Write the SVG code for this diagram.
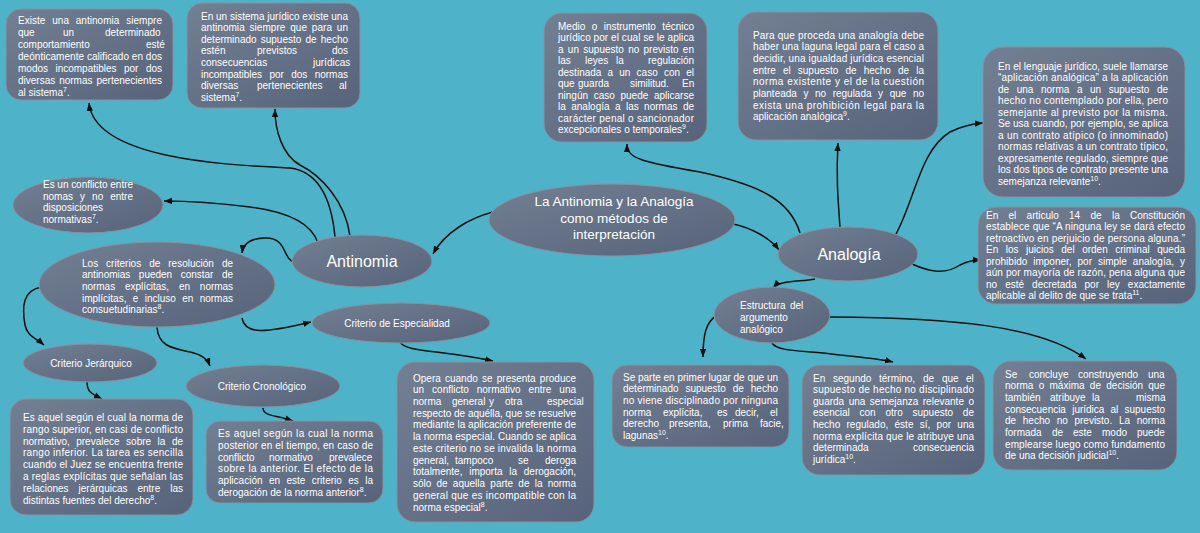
<svg xmlns="http://www.w3.org/2000/svg" width="1200" height="533" viewBox="0 0 1200 533">
<defs>
<linearGradient id="g" x1="0" y1="0" x2="1" y2="1">
<stop offset="0" stop-color="#737f92"/>
<stop offset="1" stop-color="#56637a"/>
</linearGradient>
<marker id="ah" viewBox="0 0 10 10" refX="10" refY="5" markerWidth="8" markerHeight="8" markerUnits="userSpaceOnUse" orient="auto">
<path d="M0,1 L10,5 L0,9 z" fill="#111"/>
</marker>
<style>
.n{fill:url(#g);stroke:#8592a3;stroke-width:1}
.t{font-family:"Liberation Sans",Arial,sans-serif;font-size:10px;fill:#fff}
.c{text-anchor:middle}
.big{font-size:16px}
.mid{font-size:13.5px}
.sup{font-size:7px}
.k{fill:none;stroke:#111;stroke-width:1.5;marker-end:url(#ah)}
</style>
</defs>
<rect width="1200" height="533" fill="#4eb3c8"/>

<g id="connectors">
<path class="k" d="M335,237 C332,205 322,172 290,168 C230,165 95,160 89,103"/>
<path class="k" d="M350,236 C345,200 320,175 300,165 C282,155 275,130 275,109"/>
<path class="k" d="M318,243 C312,225 290,212 250,207 C210,202 185,201 164,201"/>
<path class="k" d="M295,262 C282,260 288,238 266,238 C250,238 243,244 242,253"/>
<path class="k" d="M42,287 C22,290 22,308 25,325 C27,336 36,338 44,345"/>
<path class="k" d="M157,327 C158,345 170,348 190,352 C200,354 207,358 210,366"/>
<path class="k" d="M242,318 C245,335 265,333 311,322"/>
<path class="k" d="M87,382 C87,392 92,394 102,399"/>
<path class="k" d="M263,408 C263,416 275,415 293,421"/>
<path class="k" d="M400,342 C405,352 440,350 493,361"/>
<path class="k" d="M493,212 C470,218 445,232 433,254"/>
<path class="k" d="M733,224 C752,228 770,238 779,250"/>
<path class="k" d="M800,233 C790,200 760,185 700,172 C640,162 627,158 627,144"/>
<path class="k" d="M840,227 C838,200 836,175 838,143"/>
<path class="k" d="M895,236 C915,200 920,150 950,132 C960,127 970,124 983,123"/>
<path class="k" d="M912,264 C930,272 945,275 960,265 C966,262 972,260 981,260"/>
<path class="k" d="M815,279 C800,282 780,280 773,288"/>
<path class="k" d="M716,316 C706,322 703,335 703,357"/>
<path class="k" d="M772,343 C778,352 800,350 840,355 C870,358 885,360 893,362"/>
<path class="k" d="M830,317 C950,318 1040,325 1086,359"/>
</g>

<g id="center">
<ellipse class="n" cx="612" cy="220" rx="123" ry="36"/>
<text class="t c mid" x="614" y="206">La Antinomia y la Analogía</text>
<text class="t c mid" x="614" y="222.5">como métodos de</text>
<text class="t c mid" x="614" y="239">interpretación</text>
</g>

<g id="antinomia">
<ellipse class="n" cx="362" cy="261" rx="70" ry="26"/>
<text class="t c big" x="362" y="267">Antinomia</text>
</g>

<g id="analogia">
<ellipse class="n" cx="848" cy="254" rx="70" ry="27"/>
<text class="t c big" x="849" y="260">Analogía</text>
</g>

<g id="boxA">
<rect class="n" x="6" y="9" width="167" height="91" rx="15"/>
<text class="t" x="18" y="23.5" word-spacing="3.9" textLength="144" lengthAdjust="spacing">Existe una antinomia siempre</text>
<text class="t" y="35.5"><tspan x="18">que</tspan><tspan x="63">un</tspan><tspan x="105">determinado</tspan></text>
<text class="t" y="47.5"><tspan x="18">comportamiento</tspan><tspan x="146">esté</tspan></text>
<text class="t" x="18" y="59.5" textLength="144" lengthAdjust="spacing">deónticamente calificado en dos</text>
<text class="t" x="18" y="71.5" word-spacing="4.7" textLength="144" lengthAdjust="spacing">modos incompatibles por dos</text>
<text class="t" x="18" y="83.5" word-spacing="1.2" textLength="144" lengthAdjust="spacing">diversas normas pertenecientes</text>
<text class="t" x="18" y="95.5">al sistema<tspan class="sup" dy="-4">7</tspan><tspan dy="4">.</tspan></text>
</g>

<g id="boxB">
<rect class="n" x="187" y="3" width="173" height="105" rx="15"/>
<text class="t" x="201" y="19.5" textLength="147" lengthAdjust="spacing">En un sistema jurídico existe una</text>
<text class="t" x="201" y="31.1" word-spacing="2" textLength="147" lengthAdjust="spacing">antinomia siempre que para un</text>
<text class="t" x="201" y="42.7" word-spacing="1.4" textLength="147" lengthAdjust="spacing">determinado supuesto de hecho</text>
<text class="t" y="54.3"><tspan x="201">estén</tspan><tspan x="257">previstos</tspan><tspan x="332">dos</tspan></text>
<text class="t" y="65.9"><tspan x="201">consecuencias</tspan><tspan x="313">jurídicas</tspan></text>
<text class="t" x="201" y="77.5" word-spacing="4.6" textLength="147" lengthAdjust="spacing">incompatibles por dos normas</text>
<text class="t" y="89.1"><tspan x="201">diversas</tspan><tspan x="257">pertenecientes</tspan><tspan x="339">al</tspan></text>
<text class="t" x="201" y="100.7">sistema<tspan class="sup" dy="-4">7</tspan><tspan dy="4">.</tspan></text>
</g>

<g id="conflicto">
<ellipse class="n" cx="88" cy="205" rx="75" ry="28"/>
<text class="t" x="43" y="188" textLength="90" lengthAdjust="spacing">Es un conflicto entre</text>
<text class="t" x="43" y="199.7" word-spacing="4.3" textLength="90" lengthAdjust="spacing">nomas y no entre</text>
<text class="t" x="43" y="211.4">disposiciones</text>
<text class="t" x="43" y="223">normativas<tspan class="sup" dy="-4">7</tspan><tspan dy="4">.</tspan></text>
</g>

<g id="criterios">
<ellipse class="n" cx="157" cy="284.5" rx="118" ry="42.5"/>
<text class="t" x="82" y="266.5" word-spacing="5.2" textLength="151" lengthAdjust="spacing">Los criterios de resolución de</text>
<text class="t" x="82" y="278.2" word-spacing="5.7" textLength="151" lengthAdjust="spacing">antinomias pueden constar de</text>
<text class="t" x="82" y="289.9" word-spacing="7.2" textLength="151" lengthAdjust="spacing">normas explícitas, en normas</text>
<text class="t" x="82" y="301.6" word-spacing="3.6" textLength="151" lengthAdjust="spacing">implícitas, e incluso en normas</text>
<text class="t" x="82" y="313.3">consuetudinarias<tspan class="sup" dy="-4">8</tspan><tspan dy="4">.</tspan></text>
</g>

<g id="jerarquico">
<ellipse class="n" cx="90" cy="363" rx="67" ry="19"/>
<text class="t c" x="91" y="367">Criterio Jerárquico</text>
</g>

<g id="jerarquicoBox">
<rect class="n" x="10" y="399" width="183" height="116" rx="16"/>
<text class="t" x="23" y="421" textLength="160" lengthAdjust="spacing">Es aquel según el cual la norma de</text>
<text class="t" x="23" y="432.8" textLength="160" lengthAdjust="spacing">rango superior, en casi de conflicto</text>
<text class="t" x="23" y="444.6" word-spacing="3.7" textLength="160" lengthAdjust="spacing">normativo, prevalece sobre la de</text>
<text class="t" x="23" y="456.4" textLength="160" lengthAdjust="spacing">rango inferior. La tarea es sencilla</text>
<text class="t" x="23" y="468.2" textLength="160" lengthAdjust="spacing">cuando el Juez se encuentra frente</text>
<text class="t" x="23" y="480" textLength="160" lengthAdjust="spacing">a reglas explícitas que señalan las</text>
<text class="t" x="23" y="491.8" word-spacing="7.2" textLength="160" lengthAdjust="spacing">relaciones jerárquicas entre las</text>
<text class="t" x="23" y="503.6">distintas fuentes del derecho<tspan class="sup" dy="-4">8</tspan><tspan dy="4">.</tspan></text>
</g>

<g id="cronologico">
<ellipse class="n" cx="263" cy="386" rx="77" ry="21"/>
<text class="t c" x="262" y="390">Criterio Cronológico</text>
</g>

<g id="cronologicoBox">
<rect class="n" x="206" y="421" width="177" height="82" rx="14"/>
<text class="t" x="218" y="437" textLength="155" lengthAdjust="spacing">Es aquel según la cual la norma</text>
<text class="t" x="218" y="448.8" textLength="155" lengthAdjust="spacing">posterior en el  tiempo, en caso de</text>
<text class="t" y="460.6"><tspan x="218">conflicto</tspan><tspan x="269">normativo</tspan><tspan x="329">prevalece</tspan></text>
<text class="t" x="218" y="472.4" textLength="155" lengthAdjust="spacing">sobre la anterior. El efecto de la</text>
<text class="t" x="218" y="484.2" word-spacing="3.6" textLength="155" lengthAdjust="spacing">aplicación en este criterio es la</text>
<text class="t" x="218" y="496">derogación de la norma anterior<tspan class="sup" dy="-4">8</tspan><tspan dy="4">.</tspan></text>
</g>

<g id="especialidad">
<ellipse class="n" cx="401" cy="323" rx="89" ry="20"/>
<text class="t c" x="397" y="327">Criterio de Especialidad</text>
</g>

<g id="especialidadBox">
<rect class="n" x="397" y="362" width="197" height="160" rx="18"/>
<text class="t" x="413" y="381.5" word-spacing="1.4" textLength="163" lengthAdjust="spacing">Opera cuando se presenta produce</text>
<text class="t" x="413" y="393.2" word-spacing="5.2" textLength="163" lengthAdjust="spacing">un conflicto normativo entre una</text>
<text class="t" y="405"><tspan x="413">norma</tspan><tspan x="452">general</tspan><tspan x="489">y</tspan><tspan x="505">otra</tspan><tspan x="547">especial</tspan></text>
<text class="t" x="413" y="416.7" textLength="163" lengthAdjust="spacing">respecto de aquélla, que se resuelve</text>
<text class="t" x="413" y="428.4" textLength="163" lengthAdjust="spacing">mediante la aplicación preferente de</text>
<text class="t" x="413" y="440.2" textLength="163" lengthAdjust="spacing">la norma especial. Cuando se aplica</text>
<text class="t" x="413" y="451.9" textLength="163" lengthAdjust="spacing">este criterio no se invalida la norma</text>
<text class="t" y="463.6"><tspan x="413">general,</tspan><tspan x="455">tampoco</tspan><tspan x="518">se</tspan><tspan x="545">deroga</tspan></text>
<text class="t" x="413" y="475.3" word-spacing="4" textLength="163" lengthAdjust="spacing">totalmente, importa la derogación,</text>
<text class="t" x="413" y="487.1" word-spacing="2.4" textLength="163" lengthAdjust="spacing">sólo de aquella parte de la norma</text>
<text class="t" x="413" y="498.8" textLength="163" lengthAdjust="spacing">general que es incompatible con la</text>
<text class="t" x="413" y="510.5">norma especial<tspan class="sup" dy="-4">8</tspan><tspan dy="4">.</tspan></text>
</g>

<g id="medio">
<rect class="n" x="544" y="13" width="163" height="129" rx="18"/>
<text class="t" x="558" y="29.5" word-spacing="3.7" textLength="136" lengthAdjust="spacing">Medio o instrumento técnico</text>
<text class="t" x="558" y="41" textLength="136" lengthAdjust="spacing">jurídico por el cual se le aplica</text>
<text class="t" x="558" y="52.5" word-spacing="1.5" textLength="136" lengthAdjust="spacing">a un supuesto no previsto en</text>
<text class="t" y="64"><tspan x="558">las</tspan><tspan x="585">leyes</tspan><tspan x="616">la</tspan><tspan x="648">regulación</tspan></text>
<text class="t" x="558" y="75.5" word-spacing="3.4" textLength="136" lengthAdjust="spacing">destinada a un caso con el</text>
<text class="t" y="87"><tspan x="558">que</tspan><tspan x="578">guarda</tspan><tspan x="630">similitud.</tspan><tspan x="682">En</tspan></text>
<text class="t" x="558" y="98.5" word-spacing="2.9" textLength="136" lengthAdjust="spacing">ningún caso puede aplicarse</text>
<text class="t" x="558" y="110" word-spacing="2.6" textLength="136" lengthAdjust="spacing">la analogía a las normas de</text>
<text class="t" x="558" y="121.5" textLength="136" lengthAdjust="spacing">carácter penal o sancionador</text>
<text class="t" x="558" y="133">excepcionales o temporales<tspan class="sup" dy="-4">9</tspan><tspan dy="4">.</tspan></text>
</g>

<g id="paraque">
<rect class="n" x="738" y="12" width="200" height="128" rx="18"/>
<text class="t" x="753" y="38.5" textLength="171" lengthAdjust="spacing">Para que proceda una analogía debe</text>
<text class="t" x="753" y="50.2" textLength="171" lengthAdjust="spacing">haber una laguna legal para el caso a</text>
<text class="t" x="753" y="61.9" textLength="171" lengthAdjust="spacing">decidir, una igualdad jurídica esencial</text>
<text class="t" x="753" y="73.6" word-spacing="4.3" textLength="171" lengthAdjust="spacing">entre el supuesto de hecho de la</text>
<text class="t" x="753" y="85.3" textLength="171" lengthAdjust="spacing">norma existente y el de la cuestión</text>
<text class="t" x="753" y="97" word-spacing="3.8" textLength="171" lengthAdjust="spacing">planteada y no regulada y que no</text>
<text class="t" x="753" y="108.7" textLength="171" lengthAdjust="spacing">exista una prohibición legal para la</text>
<text class="t" x="753" y="120.4">aplicación analógica<tspan class="sup" dy="-4">9</tspan><tspan dy="4">.</tspan></text>
</g>

<g id="lenguaje">
<rect class="n" x="983" y="47" width="202" height="150" rx="20"/>
<text class="t" x="998" y="69.5" textLength="170" lengthAdjust="spacing">En el lenguaje jurídico, suele llamarse</text>
<text class="t" x="998" y="81" textLength="170" lengthAdjust="spacing">“aplicación analógica” a la aplicación</text>
<text class="t" x="998" y="92.5" word-spacing="4.8" textLength="170" lengthAdjust="spacing">de una norma a un supuesto de</text>
<text class="t" x="998" y="104" textLength="170" lengthAdjust="spacing">hecho no contemplado por ella, pero</text>
<text class="t" x="998" y="115.5" textLength="170" lengthAdjust="spacing">semejante al previsto por la misma.</text>
<text class="t" x="998" y="127" textLength="170" lengthAdjust="spacing">Se usa cuando, por ejemplo, se aplica</text>
<text class="t" x="998" y="138.5" textLength="170" lengthAdjust="spacing">a un contrato atípico (o innominado)</text>
<text class="t" x="998" y="150" textLength="170" lengthAdjust="spacing">normas relativas a un contrato típico,</text>
<text class="t" x="998" y="161.5" textLength="170" lengthAdjust="spacing">expresamente regulado, siempre que</text>
<text class="t" x="998" y="173" textLength="170" lengthAdjust="spacing">los dos tipos de contrato presente una</text>
<text class="t" x="998" y="184.5">semejanza relevante<tspan class="sup" dy="-4">10</tspan><tspan dy="4">.</tspan></text>
</g>

<g id="articulo14">
<rect class="n" x="978" y="207" width="218" height="97" rx="18"/>
<text class="t" y="218.5"><tspan x="986">En</tspan><tspan x="1008.5">el</tspan><tspan x="1026.6">articulo</tspan><tspan x="1069">14</tspan><tspan x="1090.5">de</tspan><tspan x="1112">la</tspan><tspan x="1130">Constitución</tspan></text>
<text class="t" x="986" y="230" textLength="199" lengthAdjust="spacing">establece que “A ninguna ley se dará efecto</text>
<text class="t" x="986" y="241.6" textLength="199" lengthAdjust="spacing">retroactivo en perjuicio de persona alguna.”</text>
<text class="t" x="986" y="253.1" word-spacing="4.7" textLength="199" lengthAdjust="spacing">En los juicios del orden criminal queda</text>
<text class="t" x="986" y="264.7" word-spacing="3.1" textLength="199" lengthAdjust="spacing">prohibido imponer, por simple analogía, y</text>
<text class="t" x="986" y="276.2" textLength="199" lengthAdjust="spacing">aún por mayoría de razón, pena alguna que</text>
<text class="t" x="986" y="287.8" word-spacing="5.3" textLength="199" lengthAdjust="spacing">no esté decretada por ley exactamente</text>
<text class="t" x="986" y="299.3">aplicable al delito de que se trata<tspan class="sup" dy="-4">11</tspan><tspan dy="4">.</tspan></text>
</g>

<g id="estructura">
<ellipse class="n" cx="772" cy="315" rx="58" ry="28"/>
<text class="t" y="309"><tspan x="740">Estructura</tspan><tspan x="790">del</tspan></text>
<text class="t" x="740" y="321">argumento</text>
<text class="t" x="740" y="333">analógico</text>
</g>

<g id="separte">
<rect class="n" x="612" y="365" width="177" height="82" rx="15"/>
<text class="t" x="623" y="380.5" textLength="155" lengthAdjust="spacing">Se parte en primer lugar de que un</text>
<text class="t" x="623" y="392.2" word-spacing="4.1" textLength="155" lengthAdjust="spacing">determinado supuesto de hecho</text>
<text class="t" x="623" y="403.9" textLength="155" lengthAdjust="spacing">no viene disciplinado por ninguna</text>
<text class="t" y="415.6"><tspan x="623">norma</tspan><tspan x="663">explícita,</tspan><tspan x="717">es</tspan><tspan x="735">decir,</tspan><tspan x="770">el</tspan></text>
<text class="t" y="427.3"><tspan x="623">derecho</tspan><tspan x="669">presenta,</tspan><tspan x="723">prima</tspan><tspan x="760">facie,</tspan></text>
<text class="t" x="623" y="439">lagunas<tspan class="sup" dy="-4">10</tspan><tspan dy="4">.</tspan></text>
</g>

<g id="segundo">
<rect class="n" x="802" y="365" width="183" height="110" rx="18"/>
<text class="t" y="381.5"><tspan x="813">En</tspan><tspan x="833">segundo</tspan><tspan x="879">término,</tspan><tspan x="923">de</tspan><tspan x="942">que</tspan><tspan x="966">el</tspan></text>
<text class="t" x="813" y="393.1" textLength="161" lengthAdjust="spacing">supuesto de hecho no disciplinado</text>
<text class="t" x="813" y="404.7" word-spacing="1.7" textLength="161" lengthAdjust="spacing">guarda una semejanza relevante o</text>
<text class="t" x="813" y="416.3" word-spacing="7" textLength="161" lengthAdjust="spacing">esencial con otro supuesto de</text>
<text class="t" x="813" y="427.9" word-spacing="3.5" textLength="161" lengthAdjust="spacing">hecho regulado, éste sí, por una</text>
<text class="t" x="813" y="439.5" textLength="161" lengthAdjust="spacing">norma explícita que le atribuye una</text>
<text class="t" y="451.1"><tspan x="813">determinada</tspan><tspan x="913">consecuencia</tspan></text>
<text class="t" x="813" y="462.7">jurídica<tspan class="sup" dy="-4">10</tspan><tspan dy="4">.</tspan></text>
</g>

<g id="concluye">
<rect class="n" x="993" y="361" width="184" height="109" rx="18"/>
<text class="t" y="377.5"><tspan x="1005">Se</tspan><tspan x="1029">concluye</tspan><tspan x="1078">construyendo</tspan><tspan x="1148">una</tspan></text>
<text class="t" x="1005" y="389.2" word-spacing="2.5" textLength="160" lengthAdjust="spacing">norma o máxima de decisión que</text>
<text class="t" y="400.9"><tspan x="1005">también</tspan><tspan x="1050">atribuye</tspan><tspan x="1092">la</tspan><tspan x="1136">misma</tspan></text>
<text class="t" x="1005" y="412.6" word-spacing="3.5" textLength="160" lengthAdjust="spacing">consecuencia jurídica al supuesto</text>
<text class="t" x="1005" y="424.3" word-spacing="3.9" textLength="160" lengthAdjust="spacing">de hecho no previsto. La norma</text>
<text class="t" y="436"><tspan x="1005">formada</tspan><tspan x="1052">de</tspan><tspan x="1073">este</tspan><tspan x="1102">modo</tspan><tspan x="1137">puede</tspan></text>
<text class="t" x="1005" y="447.7" textLength="160" lengthAdjust="spacing">emplearse luego como fundamento</text>
<text class="t" x="1005" y="459.4">de una decisión judicial<tspan class="sup" dy="-4">10</tspan><tspan dy="4">.</tspan></text>
</g>
</svg>
